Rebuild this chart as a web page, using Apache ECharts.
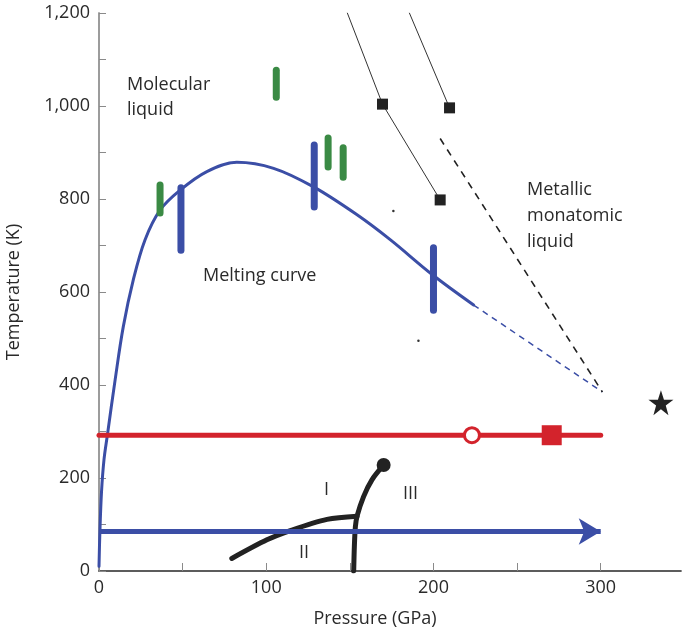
<!DOCTYPE html>
<html><head><meta charset="utf-8">
<script src="https://cdn.jsdelivr.net/npm/echarts@6/dist/echarts.min.js"></script>
<style>html,body{margin:0;padding:0;background:#fff}#c{width:685px;height:635px}</style>
</head><body><div id="c"></div>
<script>
// ---- data (Pressure GPa, Temperature K) ----
const meltingCurve = [[0,10],[0.5,80],[1.5,170],[3,240],[5,292],[9.6,410],[14.5,525],[20.5,626],[27.5,712],[36.5,776],[48.5,819],[64.5,859],[82.4,879],[104.4,866],[128.3,826],[154.3,766],[174.3,712],[199.4,637],[224,572]];
const meltingExtrap = [[224,572],[301,385]];
const metallicBoundary = [[204,930],[301,385]];
const thinLineA1 = [[148.5,1200],[169.5,1004]];
const thinLineA2 = [[169.5,1004],[204,798]];
const thinLineB = [[185.6,1200],[209.6,996]];
const blackSquares = [[169.5,1004],[204,798],[209.6,996]];
const greenBars = [[[36.5,770],[36.5,830]],[[106,1019],[106,1077]],[[137,869],[137,931]],[[146,847],[146,910]]];
const blueBars = [[[49,690],[49,824]],[[128.7,783],[128.7,916]],[[200,561],[200,695]]];
const roomTempLine = [[0,292],[300,292]];
const openCircle = [[223,292]];
const redSquare = [[270.7,292]];
const star = [[336,362]];
const isothermLine = [[0,85],[300,85]];
const phaseBoundaryI_II = [[79.4,27],[100.4,67],[114.4,87],[136.3,111],[154.3,118]];
const phaseBoundaryIII = [[152.3,0],[152.7,54],[153.3,95],[154.3,118],[158.2,160],[163.2,196],[170.2,228]];
const specks = [[176,774],[191,495]];
const xTicks = [0,100,200,300];
const yTicks = [0,200,400,600,800,1000,1200];

const BLUE = '#3b4ea6', GREEN = '#3a8a44', RED = '#d3232c', BLACK = '#222';
const FONT = 'Open Sans';

function seg(data, color, width, extra) {
  return Object.assign({type:'line', data, symbol:'none', silent:true, animation:false,
    lineStyle:{color, width, cap:'round'}}, extra||{});
}
function pts(data, symbol, size, itemStyle, z) {
  return {type:'scatter', data, symbol, symbolSize:size, itemStyle:Object.assign({opacity:1}, itemStyle), z:z||8, animation:false, silent:true};
}
const series = [];
series.push(seg(meltingCurve, BLUE, 3, {smooth:0.35, z:3}));
series.push(seg(meltingExtrap, BLUE, 1.5, {lineStyle:{color:BLUE,width:1.5,type:[6,5]}}));
series.push(seg(metallicBoundary, BLACK, 1.6, {lineStyle:{color:BLACK,width:1.6,type:[7,6]}}));
series.push(seg(thinLineA1, '#333', 1));
series.push(seg(thinLineA2, '#333', 1));
series.push(seg(thinLineB, '#333', 1));
greenBars.forEach(b=>series.push(seg(b, GREEN, 7, {z:4})));
blueBars.forEach(b=>series.push(seg(b, BLUE, 7, {z:4})));
series.push(seg(roomTempLine, RED, 5, {z:5}));
series.push(seg(phaseBoundaryI_II, BLACK, 5, {smooth:0.3, z:6}));
series.push(seg(phaseBoundaryIII, BLACK, 5, {smooth:0.3, z:6}));
series.push(pts([phaseBoundaryIII[phaseBoundaryIII.length-1]], 'circle', 14, {color:BLACK}, 7));
series.push({type:'line', data:isothermLine.map((p,i)=>i===isothermLine.length-1?{value:p,symbol:'arrow',symbolSize:[20,22],symbolRotate:-90}:{value:p,symbol:'none'}),
  showSymbol:true, lineStyle:{color:BLUE,width:5}, itemStyle:{color:BLUE, opacity:1}, z:6, animation:false, silent:true});
series.push(pts(blackSquares, 'rect', 11, {color:BLACK}));
series.push(pts(openCircle, 'circle', 15, {color:'#fff', borderColor:RED, borderWidth:3}));
series.push(pts(redSquare, 'rect', 20, {color:RED}));
series.push(pts(star, 'path://M50,0 L61.8,35.1 L98.9,35.1 L68.9,57.3 L79.4,92.7 L50,71 L20.6,92.7 L31.1,57.3 L1.1,35.1 L38.2,35.1 Z', 25, {color:BLACK}));
series.push(pts(specks, 'circle', 2.5, {color:'#333'}, 2));

const txt = (x,y,text,extra)=>Object.assign({type:'text', x, y, style:{text, font:'18px "'+FONT+'"', fill:'#2a2a2a', textVerticalAlign:'middle', lineHeight:26}}, extra||{});

const chart = echarts.init(document.getElementById('c'), null, {renderer:'canvas'});
chart.setOption({
  backgroundColor:'#fff',
  animation:false,
  grid:{left:99, right:4, top:13, bottom:64, containLabel:false, outerBoundsMode:'none'},
  xAxis:[{
    type:'value', min:0, max:348, interval:50,
    name:'Pressure (GPa)', nameLocation:'middle', nameGap:39,
    nameTextStyle:{fontFamily:FONT, fontSize:18, color:'#2a2a2a', padding:[0,30,0,0]},
    axisLine:{show:true, lineStyle:{color:'#8a8a8a', width:1.5}},
    axisTick:{show:true, inside:true, length:8, lineStyle:{color:'#8a8a8a'}},
    axisLabel:{fontFamily:FONT, fontSize:18, color:'#2a2a2a', margin:8, showMaxLabel:false,
      formatter:v=>xTicks.indexOf(v)>=0?String(v):''},
    splitLine:{show:false}
  },{
    type:'value', min:0, max:348, position:'top',
    axisLine:{show:true, lineStyle:{color:'#444', width:1.5}},
    axisTick:{show:false}, axisLabel:{show:false}, splitLine:{show:false}
  }],
  yAxis:[{
    type:'value', min:0, max:1200, interval:100,
    name:'Temperature (K)', nameLocation:'middle', nameGap:76,
    nameTextStyle:{fontFamily:FONT, fontSize:18, color:'#2a2a2a'},
    axisLine:{show:true, lineStyle:{color:'#8a8a8a', width:1.5}},
    axisTick:{show:true, inside:true, length:7, lineStyle:{color:'#8a8a8a'}},
    axisLabel:{fontFamily:FONT, fontSize:18, color:'#2a2a2a', margin:9,
      formatter:v=>yTicks.indexOf(v)>=0?v.toLocaleString('en-US'):''},
    splitLine:{show:false}
  },{
    type:'value', min:0, max:1200, position:'right',
    axisLine:{show:true, lineStyle:{color:'#999', width:1.5}},
    axisTick:{show:false}, axisLabel:{show:false}, splitLine:{show:false}
  }],
  series: series,
  graphic: [
    txt(127,72,'Molecular\nliquid', {style:{text:'Molecular\nliquid', font:'18px "'+FONT+'"', fill:'#2a2a2a', textVerticalAlign:'top', lineHeight:25}}),
    txt(203,276,'Melting curve'),
    txt(527,177,'Metallic\nmonatomic\nliquid', {style:{text:'Metallic\nmonatomic\nliquid', font:'18px "'+FONT+'"', fill:'#2a2a2a', textVerticalAlign:'top', lineHeight:26}}),
    txt(324,490,'I'),
    txt(299,553,'II'),
    txt(403,494,'III')
  ]
});
</script></body></html>
